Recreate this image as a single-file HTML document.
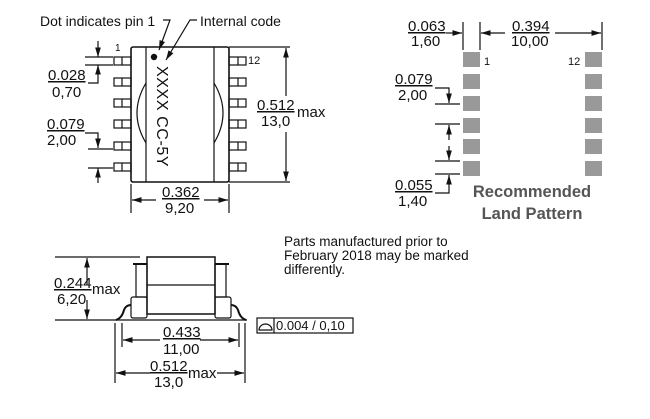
<!DOCTYPE html>
<html><head><meta charset="utf-8"><style>
html,body{margin:0;padding:0;background:#fff;}
svg{display:block;font-family:"Liberation Sans",Arial,sans-serif;}
</style></head><body>
<svg width="650" height="419" viewBox="0 0 650 419" xmlns="http://www.w3.org/2000/svg">
<defs>
<marker id="a" viewBox="0 0 10 10" refX="10" refY="5" markerWidth="8" markerHeight="8" orient="auto-start-reverse"><path d="M0,2 L10,5 L0,8 z" fill="#111"/></marker>
</defs>
<g stroke="#111" stroke-width="1.2" fill="none">
<rect x="131" y="47" width="98" height="135" rx="2" stroke-width="1.6"/>
<line x1="146" y1="47" x2="146" y2="182"/>
<line x1="214" y1="47" x2="214" y2="182"/>
<path d="M146,83 Q128,113 146,143"/>
<path d="M214,83 Q232,113 214,143"/>
<g>
<rect x="114" y="57" width="17" height="8"/><line x1="122" y1="57" x2="122" y2="65"/>
<rect x="114" y="78" width="17" height="8"/><line x1="122" y1="78" x2="122" y2="86"/>
<rect x="114" y="99" width="17" height="8"/><line x1="122" y1="99" x2="122" y2="107"/>
<rect x="114" y="120" width="17" height="8"/><line x1="122" y1="120" x2="122" y2="128"/>
<rect x="114" y="142" width="17" height="8"/><line x1="122" y1="142" x2="122" y2="150"/>
<rect x="114" y="163" width="17" height="8"/><line x1="122" y1="163" x2="122" y2="171"/>
<rect x="229" y="57" width="17" height="8"/><line x1="238" y1="57" x2="238" y2="65"/>
<rect x="229" y="78" width="17" height="8"/><line x1="238" y1="78" x2="238" y2="86"/>
<rect x="229" y="99" width="17" height="8"/><line x1="238" y1="99" x2="238" y2="107"/>
<rect x="229" y="120" width="17" height="8"/><line x1="238" y1="120" x2="238" y2="128"/>
<rect x="229" y="142" width="17" height="8"/><line x1="238" y1="142" x2="238" y2="150"/>
<rect x="229" y="163" width="17" height="8"/><line x1="238" y1="163" x2="238" y2="171"/>
</g>
<path d="M163,20 L170,20 L159,50" marker-end="url(#a)"/>
<path d="M197,20 L190,20 L166,60" marker-end="url(#a)"/>
<line x1="85" y1="57" x2="113" y2="57"/>
<line x1="85" y1="65" x2="113" y2="65"/>
<line x1="98" y1="41" x2="98" y2="57" marker-end="url(#a)"/>
<path d="M88,83 L98,83 L98,65" marker-end="url(#a)"/>
<path d="M85,133 L98,133 L98,148" marker-end="url(#a)"/>
<line x1="88" y1="149" x2="113" y2="149"/>
<line x1="88" y1="168" x2="113" y2="168"/>
<line x1="98" y1="183" x2="98" y2="168" marker-end="url(#a)"/>
<line x1="229" y1="47" x2="290" y2="47"/>
<line x1="229" y1="182" x2="290" y2="182"/>
<line x1="286" y1="96" x2="286" y2="48" marker-end="url(#a)"/>
<line x1="286" y1="132" x2="286" y2="181" marker-end="url(#a)"/>
<line x1="131" y1="184" x2="131" y2="213"/>
<line x1="229" y1="184" x2="229" y2="213"/>
<line x1="156" y1="200" x2="132" y2="200" marker-end="url(#a)"/>
<line x1="204" y1="200" x2="228" y2="200" marker-end="url(#a)"/>
<line x1="463" y1="22" x2="463" y2="50"/>
<line x1="480" y1="22" x2="480" y2="50"/>
<line x1="602" y1="22" x2="602" y2="50"/>
<line x1="446" y1="33" x2="462" y2="33" marker-end="url(#a)"/>
<line x1="505" y1="33" x2="481" y2="33" marker-end="url(#a)"/>
<line x1="555" y1="33" x2="601" y2="33" marker-end="url(#a)"/>
<path d="M435,88 L449,88 L449,103" marker-end="url(#a)"/>
<line x1="435" y1="104" x2="460" y2="104"/>
<line x1="435" y1="124" x2="460" y2="124"/>
<line x1="449" y1="140" x2="449" y2="125" marker-end="url(#a)"/>
<line x1="449" y1="146" x2="449" y2="160" marker-end="url(#a)"/>
<line x1="435" y1="161" x2="460" y2="161"/>
<line x1="435" y1="174" x2="460" y2="174"/>
<path d="M435,193 L449,193 L449,175" marker-end="url(#a)"/>
<line x1="55" y1="257" x2="140" y2="257"/>
<line x1="55" y1="320" x2="247" y2="320"/>
<line x1="87" y1="285" x2="87" y2="258" marker-end="url(#a)"/>
<line x1="87" y1="300" x2="87" y2="319" marker-end="url(#a)"/>
<rect x="147" y="257" width="68" height="57" stroke-width="1.5"/>
<line x1="147" y1="285" x2="215" y2="285"/>
<rect x="136" y="264" width="11" height="33"/>
<rect x="215" y="264" width="11" height="33"/>
<line x1="133" y1="264" x2="147" y2="264" stroke-width="2"/>
<line x1="215" y1="264" x2="229" y2="264" stroke-width="2"/>
<rect x="131" y="297" width="16" height="21" rx="2"/>
<rect x="215" y="297" width="16" height="21" rx="2"/>
<path d="M116,320 Q122,318 124,310 Q126,305 131,305" stroke-width="2"/>
<path d="M246,320 Q240,318 238,310 Q236,305 231,305" stroke-width="2"/>
<line x1="122" y1="323" x2="122" y2="347"/>
<line x1="239" y1="323" x2="239" y2="347"/>
<line x1="115" y1="323" x2="115" y2="383"/>
<line x1="245" y1="323" x2="245" y2="383"/>
<line x1="160" y1="340" x2="123" y2="340" marker-end="url(#a)"/>
<line x1="200" y1="340" x2="238" y2="340" marker-end="url(#a)"/>
<line x1="150" y1="373" x2="116" y2="373" marker-end="url(#a)"/>
<line x1="217" y1="373" x2="244" y2="373" marker-end="url(#a)"/>
<rect x="257" y="318" width="96" height="15"/>
<line x1="274" y1="318" x2="274" y2="333"/>
<path d="M259,330 L272,330 A6.5,6 0 0 0 259,330 Z"/>
</g>
<circle cx="154" cy="57" r="3.2" fill="#111"/>
<g fill="#999">
<rect x="463" y="52" width="17" height="15"/><rect x="463" y="74" width="17" height="15"/><rect x="463" y="96" width="17" height="15"/><rect x="463" y="118" width="17" height="15"/><rect x="463" y="139" width="17" height="15"/><rect x="463" y="161" width="17" height="15"/>
<rect x="585" y="52" width="17" height="15"/><rect x="585" y="74" width="17" height="15"/><rect x="585" y="96" width="17" height="15"/><rect x="585" y="118" width="17" height="15"/><rect x="585" y="139" width="17" height="15"/><rect x="585" y="161" width="17" height="15"/>
</g>
<g fill="#111" font-size="15">
<text x="40" y="26" font-size="14">Dot indicates pin 1</text>
<text x="200" y="26" font-size="14">Internal code</text>
<text x="161" y="66" transform="rotate(90 161 66)" font-size="16" letter-spacing="0.6" dominant-baseline="middle">XXXX CC-5Y</text>
<text x="115" y="51" font-size="10">1</text>
<text x="248" y="64" font-size="11">12</text>
<text x="48" y="80" text-decoration="underline">0.028</text>
<text x="52" y="97">0,70</text>
<text x="47" y="129" text-decoration="underline">0.079</text>
<text x="47" y="145">2,00</text>
<text x="257" y="110" text-decoration="underline">0.512</text>
<text x="297" y="117">max</text>
<text x="261" y="126">13,0</text>
<text x="162" y="197" text-decoration="underline">0.362</text>
<text x="165" y="213">9,20</text>
<text x="408" y="31" text-decoration="underline">0.063</text>
<text x="411" y="46">1,60</text>
<text x="512" y="31" text-decoration="underline">0.394</text>
<text x="511" y="46">10,00</text>
<text x="484" y="65" font-size="11">1</text>
<text x="568" y="65" font-size="11">12</text>
<text x="395" y="84" text-decoration="underline">0.079</text>
<text x="398" y="100">2,00</text>
<text x="395" y="190" text-decoration="underline">0.055</text>
<text x="398" y="206">1,40</text>
<text x="284" y="246" font-size="13.5">Parts manufactured prior to</text>
<text x="284" y="260" font-size="13.5">February 2018 may be marked</text>
<text x="284" y="274" font-size="13.5">differently.</text>
<text x="54" y="288" text-decoration="underline">0.244</text>
<text x="92" y="294">max</text>
<text x="57" y="304">6,20</text>
<text x="163" y="337" text-decoration="underline">0.433</text>
<text x="163" y="354">11,00</text>
<text x="150" y="371" text-decoration="underline">0.512</text>
<text x="188" y="378">max</text>
<text x="154" y="387">13,0</text>
<text x="276" y="330" font-size="13">0.004 / 0,10</text>
</g>
<g fill="#555" font-size="16.5" font-weight="bold" text-anchor="middle">
<text x="532" y="197">Recommended</text>
<text x="532" y="219">Land Pattern</text>
</g>
</svg>
</body></html>
